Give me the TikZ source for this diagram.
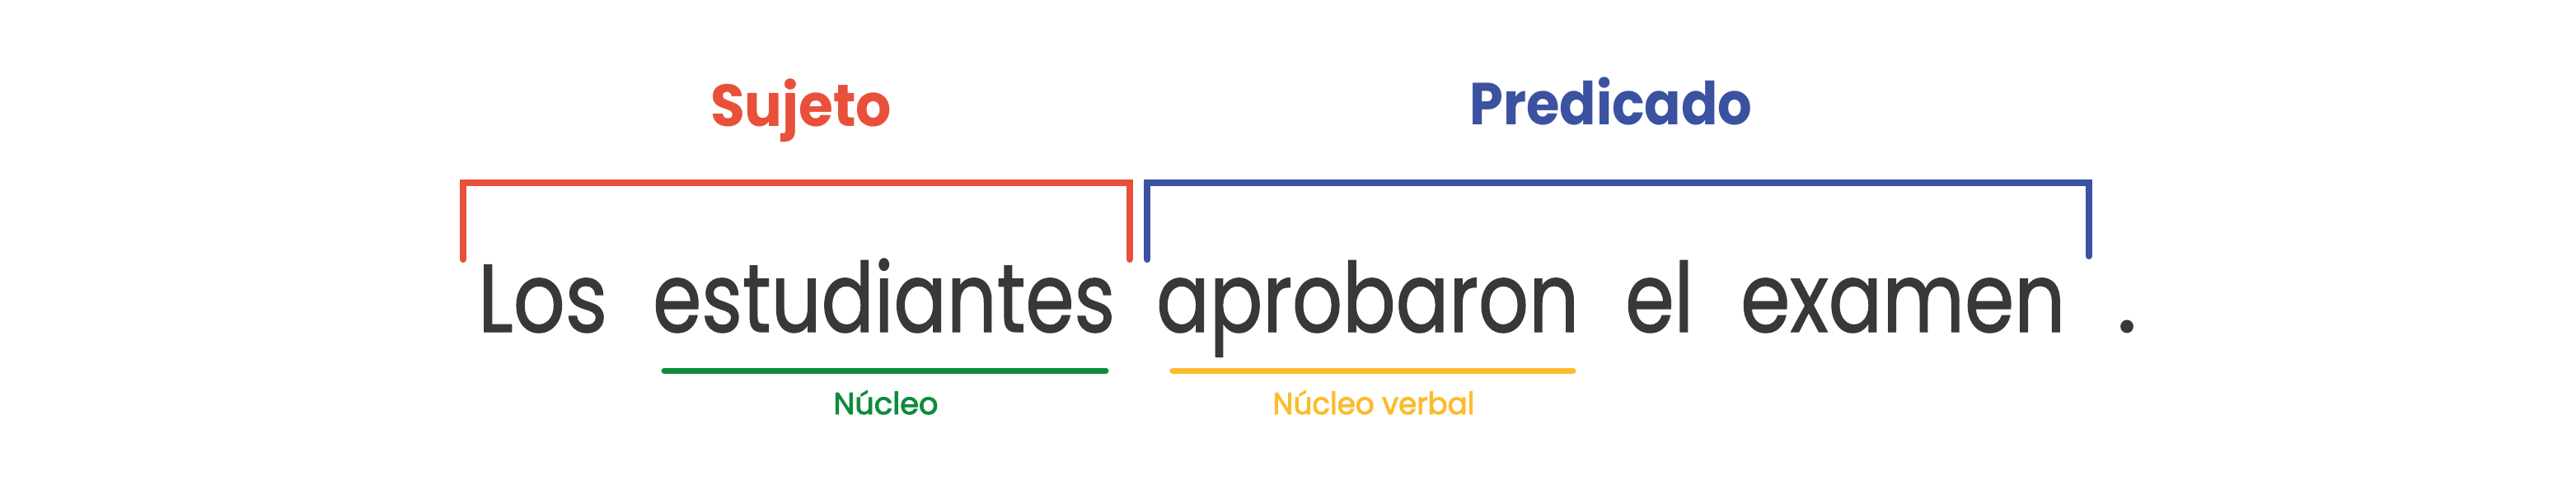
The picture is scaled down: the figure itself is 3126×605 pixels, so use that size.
\documentclass[tikz,border=0pt]{standalone}
\usepackage{fontspec}
\usepackage{graphicx}
\newfontfamily\sentfont{Poppins}[FakeBold=1.2]
\newfontfamily\labfont{Poppins}
\newfontfamily\smallfont{Poppins}[FakeBold=2.5]
\definecolor{ink}{HTML}{383838}
\definecolor{subj}{HTML}{E8503A}
\definecolor{pred}{HTML}{3A52A0}
\definecolor{nuc}{HTML}{0D8C3C}
\definecolor{nucv}{HTML}{FBBC2C}
\newcommand\fitw[2]{\resizebox{#1pt}{\height}{#2}}
\newcommand\sentsize{\fontsize{117pt}{117pt}\selectfont\sentfont}
\newcommand\bigsize{\fontsize{72pt}{72pt}\selectfont\labfont\bfseries}
\newcommand\smallsize{\fontsize{37pt}{37pt}\selectfont\smallfont}
\begin{document}
\begin{tikzpicture}[x=1pt,y=-1pt,
  word/.style={anchor=base west,inner sep=0pt,text=ink},
  lab/.style={anchor=base,inner sep=0pt},
  brk/.style={line width=8pt,line cap=round,line join=miter},
  uline/.style={line width=7pt,line cap=round}]
\useasboundingbox[fill=white] (0,0) rectangle (3126,605);
% labels
\node[lab,text=subj] (suj) at (972,153) {\fitw{220}{\bigsize Sujeto}};
\node[lab,text=pred] (pre) at (1955,151) {\fitw{343}{\bigsize Predicado}};
% brackets
\draw[brk,subj] (562,315) -- (562,222) -- (1371,222) -- (1371,315);
\draw[brk,pred] (1392,315) -- (1392,222) -- (2535,222) -- (2535,311);
% sentence
\node[word] (w1) at (580,403) {\fitw{157}{\sentsize Los}};
\node[word] (w2) at (792,403) {\fitw{561}{\sentsize estudiantes}};
\node[word] (w3) at (1403,403) {\fitw{513}{\sentsize aprobaron}};
\node[word] (w4) at (1972,403) {\fitw{83}{\sentsize el}};
\node[word] (w5) at (2112,403) {\fitw{394}{\sentsize examen}};
\node[lab,text=ink] (w6) at (2581,403) {\sentsize .};
% underlines
\draw[uline,nuc] (806,450) -- (1342,450);
\draw[uline,nucv] (1423,450) -- (1909,450);
\node[lab,text=nuc] (n1) at (1075,503) {\fitw{127}{\smallsize Núcleo}};
\node[lab,text=nucv] (n2) at (1667,503) {\fitw{245}{\smallsize Núcleo verbal}};
\end{tikzpicture}
\end{document}
